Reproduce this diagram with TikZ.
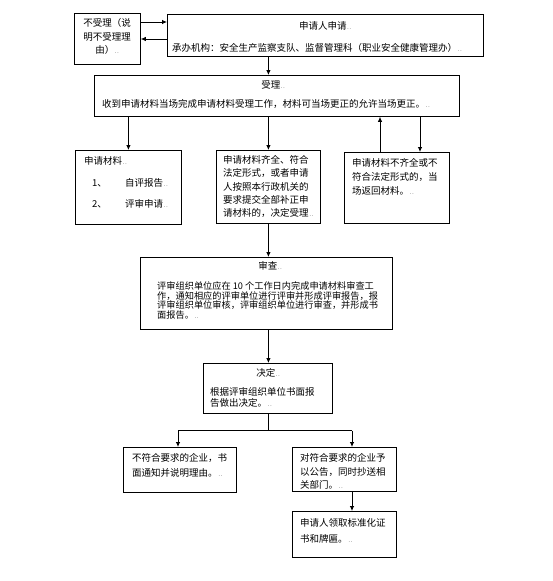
\documentclass[tikz,border=0pt]{standalone}
\usepackage{fontspec}
\setmainfont{Noto Sans CJK SC}
\usetikzlibrary{arrows.meta,calc}
\newcommand\parmk{{\fontsize{5}{5}\selectfont\,.\,.}}
\begin{document}
\begin{tikzpicture}[x=1pt,y=-1pt,
  box/.style={draw,line width=0.8pt,rectangle,inner sep=0,anchor=north west},
  txt/.style={inner sep=0,anchor=base west,font=\fontsize{9.5}{12}\selectfont},
  stxt/.style={inner sep=0,anchor=base west,font=\fontsize{9.2}{11}\selectfont},
  ctxt/.style={inner sep=0,anchor=base,font=\fontsize{9.5}{12}\selectfont},
  arr/.style={line width=0.8pt,-{Latex[length=5pt,width=4.5pt]}},
  ln/.style={line width=0.8pt}]
\useasboundingbox[fill=white] (0,0) rectangle (552,581);
% boxes
\node[box,minimum width=66pt,minimum height=51pt] (A) at (74,13) {};
\node[box,minimum width=316pt,minimum height=42pt] (B) at (167,14) {};
\node[box,minimum width=365pt,minimum height=41pt] (C) at (94,75) {};
\node[box,minimum width=106pt,minimum height=74pt] (D) at (75,150) {};
\node[box,minimum width=104pt,minimum height=73pt] (E) at (216,150) {};
\node[box,minimum width=105pt,minimum height=71pt] (F) at (344,152) {};
\node[box,minimum width=252pt,minimum height=72pt] (G) at (140,257) {};
\node[box,minimum width=129pt,minimum height=50pt] (H) at (203,363) {};
\node[box,minimum width=113pt,minimum height=45pt] (I) at (123,447) {};
\node[box,minimum width=104pt,minimum height=44pt] (J) at (292,447) {};
\node[box,minimum width=104pt,minimum height=46pt] (K) at (292,511) {};
% texts
\node[ctxt] (A1) at (107,26.5) {不受理（说};
\node[ctxt] (A2) at (107,40) {明不受理理};
\node[ctxt] (A3) at (107,53.5) {由）\parmk};
\node[ctxt] (B1) at (325,29.5) {申请人申请\parmk};
\node[txt] (B2) at (172,51.5) {承办机构：安全生产监察支队、监督管理科（职业安全健康管理办）\parmk};
\node[ctxt] (C1) at (273,88.5) {受理\parmk};
\node[txt] (C2) at (102,107.5) {收到申请材料当场完成申请材料受理工作，材料可当场更正的允许当场更正。\parmk};
\node[txt] (D1) at (84,164.5) {申请材料\parmk};
\node[txt] (D2) at (92,186.5) {1、};
\node[txt] (D3) at (125,186.5) {自评报告\parmk};
\node[txt] (D4) at (92,207.5) {2、};
\node[txt] (D5) at (125,207.5) {评审申请\parmk};
\node[txt] (E1) at (223,163.5) {申请材料齐全、符合};
\node[txt] (E2) at (223,176.8) {法定形式，或者申请};
\node[txt] (E3) at (223,190.1) {人按照本行政机关的};
\node[txt] (E4) at (223,203.4) {要求提交全部补正申};
\node[txt] (E5) at (223,216.7) {请材料的，决定受理\parmk};
\node[txt] (F1) at (352,166.5) {申请材料不齐全或不};
\node[txt] (F2) at (352,180.5) {符合法定形式的，当};
\node[txt] (F3) at (352,194.5) {场返回材料。\parmk};
\node[ctxt] (G1) at (270,269.5) {审查\parmk};
\node[stxt] (G2) at (157,289.5) {评审组织单位应在 10 个工作日内完成申请材料审查工};
\node[stxt] (G3) at (157,299) {作，通知相应的评审单位进行评审并形成评审报告，报};
\node[stxt] (G4) at (157,308.5) {评审组织单位审核，评审组织单位进行审查，并形成书};
\node[stxt] (G5) at (157,318) {面报告。\parmk};
\node[ctxt] (H1) at (268,376.5) {决定\parmk};
\node[txt] (H2) at (210,395.5) {根据评审组织单位书面报};
\node[txt] (H3) at (210,406) {告做出决定。\parmk};
\node[txt] (I1) at (132,461.5) {不符合要求的企业，书};
\node[txt] (I2) at (132,476.5) {面通知并说明理由。\parmk};
\node[txt] (J1) at (300,461.5) {对符合要求的企业予};
\node[txt] (J2) at (300,475.5) {以公告，同时抄送相};
\node[txt] (J3) at (300,488.5) {关部门。\parmk};
\node[txt] (K1) at (300,526.5) {申请人领取标准化证};
\node[txt] (K2) at (300,542.5) {书和牌匾。\parmk};
% connectors
\coordinate (a1) at ($(A.north east)+(0,9)$);
\coordinate (a2) at ($(A.north east)+(0,26)$);
\draw[arr] (a1) -- (a1 -| B.west);
\draw[arr] (a2 -| B.west) -- (a2);
\draw[arr] (B.south -| E.north) -- (C.north -| E.north);
\draw[arr] (C.south -| D.north) -- (D.north);
\draw[arr] (C.south -| E.north) -- (E.north);
\coordinate (f1) at ($(F.north west)+(36,0)$);
\coordinate (f2) at ($(F.north west)+(76,0)$);
\draw[arr] (f1) -- (f1 |- C.south);
\draw[arr] (f2 |- C.south) -- (f2);
\draw[arr] (E.south) -- (E.south |- G.north);
\draw[arr] (G.south -| E.south) -- (H.north -| E.south);
\coordinate (s) at ($(H.south -| E.south)+(0,17)$);
\coordinate (il) at ($(I.north west)+(55,0)$);
\coordinate (jr) at ($(J.north west)+(60,0)$);
\draw[ln] (H.south -| E.south) -- (s);
\draw[ln] (s -| il) -- (s -| jr);
\draw[arr] (s -| il) -- (il);
\draw[arr] (s -| jr) -- (jr);
\draw[arr] (J.south -| jr) -- (K.north -| jr);
\end{tikzpicture}
\end{document}
